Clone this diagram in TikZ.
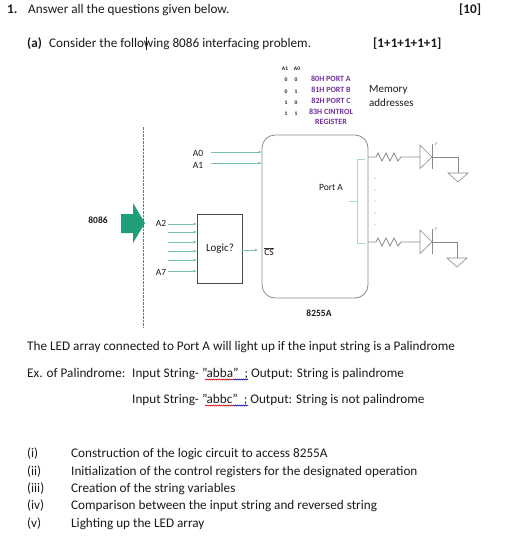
\documentclass[tikz,border=0pt]{standalone}
\usepackage{fontspec}
\setmainfont{Carlito}
\usetikzlibrary{arrows.meta,decorations.pathmorphing}
\definecolor{teal1}{HTML}{1F9E7A}
\definecolor{wire}{HTML}{8A8A8A}
\definecolor{txt}{HTML}{1A1A1A}
\definecolor{purp}{HTML}{7030A0}
\tikzset{
  body/.style={anchor=base west,inner sep=0pt,font=\fontsize{13.2pt}{15pt}\selectfont,text=txt},
  bodyb/.style={body,font=\fontsize{13.2pt}{15pt}\selectfont\bfseries},
  dlabel/.style={inner sep=0pt,font=\fontsize{9.5pt}{11pt}\selectfont,text=txt},
  dlabelb/.style={dlabel,font=\fontsize{9.5pt}{11pt}\selectfont\bfseries},
  tinylab/.style={inner sep=0pt,font=\fontsize{5.5pt}{6pt}\selectfont\bfseries,text=txt},
  plabel/.style={inner sep=0pt,font=\fontsize{8pt}{9pt}\selectfont\bfseries,text=purp},
  biglab/.style={dlabel,font=\fontsize{11pt}{12pt}\selectfont},
  sig/.style={draw=teal1!60,line width=.45pt,-{Latex[length=3pt,width=2.5pt,fill=teal1]}},
  el/.style={draw=wire,line width=.8pt},
  squig/.style={line width=.4pt,decorate,decoration={zigzag,amplitude=.5pt,segment length=2pt}},
}
\begin{document}
\begin{tikzpicture}[x=1pt,y=-1pt]
\useasboundingbox (0,0) rectangle (511,550);
% header
\node[bodyb] at (7,13) {1.};
\node[body] at (28,13) {Answer all the questions given below.};
\node[bodyb] at (459,13) {[10]};
\node[bodyb] at (27,47) {(a)};
\node[body] at (49,47) {Consider the following 8086 interfacing problem.};
\draw[txt,line width=.4pt] (146,37) -- (146,50);
\node[bodyb] at (373,47) {[1+1+1+1+1]};
% address table
\node[tinylab] at (285,69) {A1};
\node[tinylab] at (297,69) {A0};
\foreach \y/\a/\b in {80/0/0,92/0/1,103/1/0,114/1/1}{
  \node[tinylab] at (286,\y) {\a};
  \node[tinylab] at (296,\y) {\b};
}
\node[plabel] at (331,79) {80H PORT A};
\node[plabel] at (331,90) {81H PORT B};
\node[plabel] at (331,101) {82H PORT C};
\node[plabel] at (331,112) {83H CINTROL};
\node[plabel] at (331,122) {REGISTER};
\node[biglab,anchor=west] at (369,90) {Memory};
\node[biglab,anchor=west] at (369,103) {addresses};
% bus line and arrow
\coordinate (bt) at (143.5,127);
\coordinate (bb) at (143.5,327);
\draw[teal1,line width=1pt,dash pattern=on 2.5pt off 1pt] (bt) -- (bb);
\fill[teal1] (121,214) -- (133,214) -- (133,203) -- (145,223) -- (133,243) -- (133,233) -- (121,233) -- cycle;
\node[dlabelb] at (98,220) {8086};
% chip
\node[draw=wire,line width=.8pt,rounded corners=13pt,minimum width=106pt,minimum height=163pt,inner sep=0pt] (chip) at (315,216.5) {};
\node[dlabel] at (331,187) {Port A};
\node[dlabelb] at (319,313) {8255A};
% logic
\node[draw=black!70,line width=.7pt,minimum width=45pt,minimum height=69pt,inner sep=0pt] (logic) at (219.5,248.5) {};
\node[biglab] at (220,249) {Logic?};
\node[dlabel] (cs) at (269,252) {CS};
\draw[black!80,line width=.4pt] (cs.north west) -- (cs.north east);
\coordinate (csin) at (258,250);
\draw[sig] (logic.east |- csin) -- (csin);
% A0 A1
\node[dlabel] (a0) at (198,153) {A0};
\node[dlabel] (a1) at (198,165) {A1};
\coordinate (a0s) at (211,152);
\coordinate (a1s) at (211,163);
\draw[sig] (a0s) -- (chip.west |- a0s);
\draw[sig] (a1s) -- (chip.west |- a1s);
% A2..A7
\node[dlabel] (a2) at (161,223) {A2};
\node[dlabel] (a7) at (161,272) {A7};
\foreach \y in {224,232,242,251,260,271}{
  \coordinate (s\y) at (168,\y);
  \draw[sig] (s\y) -- (logic.west |- s\y);
}
% bracket
\draw[teal1!40,line width=.5pt] (365,159) -- (357,159) -- (357,243) -- (365,243);
\draw[teal1!40,line width=.5pt] (349,201) -- (357,201);
\foreach \y in {178,190,201,213,224}{ \fill[black!60] (375,\y) circle (.5pt); }
% LED branches
\foreach \y/\g/\gy in {157/458/173,242/457/258}{
  \coordinate (r\y) at (368,\y);
  \draw[el] (r\y) -- (376,\y) -- (378,\y-4) -- (382,\y+4) -- (386,\y-4) -- (390,\y+4) -- (394,\y-4) -- (398,\y+4) -- (401,\y) -- (420,\y);
  \draw[el,line width=.6pt] (420,\y-12) -- (432,\y) -- (420,\y+11.5) -- cycle;
  \draw[el] (432,\y-13) -- (432,\y+12);
  \draw[el] (432,\y) -- (\g,\y) -- (\g,\gy);
  \draw[el,line width=.6pt] (\g-10,\gy) -- (\g+10,\gy) -- (\g,\gy+9) -- cycle;
  \draw[black!60,line width=.4pt] (435,\y-12) -- (437,\y-15);
}
% statement
\node[body] at (27,350) {The LED array connected to Port A will light up if the input string is a Palindrome};
\node[body] at (27,377) {Ex. of Palindrome:};
\node[body] at (132,377) {Input String- "abba"\ \ ; Output: String is palindrome};
\node[body] at (132,403) {Input String- "abbc"\ \ ; Output: String is not palindrome};
\foreach \y in {379.5,405.5}{
  \draw[red!85!black,squig] (205,\y) -- (233,\y);
  \draw[blue!80!black,squig] (233,\y) -- (248,\y);
}
% list
\foreach \y/\n/\t in {457/(i)/Construction of the logic circuit to access 8255A,
  475/(ii)/Initialization of the control registers for the designated operation,
  492/(iii)/Creation of the string variables,
  509/(iv)/Comparison between the input string and reversed string,
  527/(v)/Lighting up the LED array}{
  \node[body] at (27,\y) {\n};
  \node[body] at (71,\y) {\t};
}
\end{tikzpicture}
\end{document}
